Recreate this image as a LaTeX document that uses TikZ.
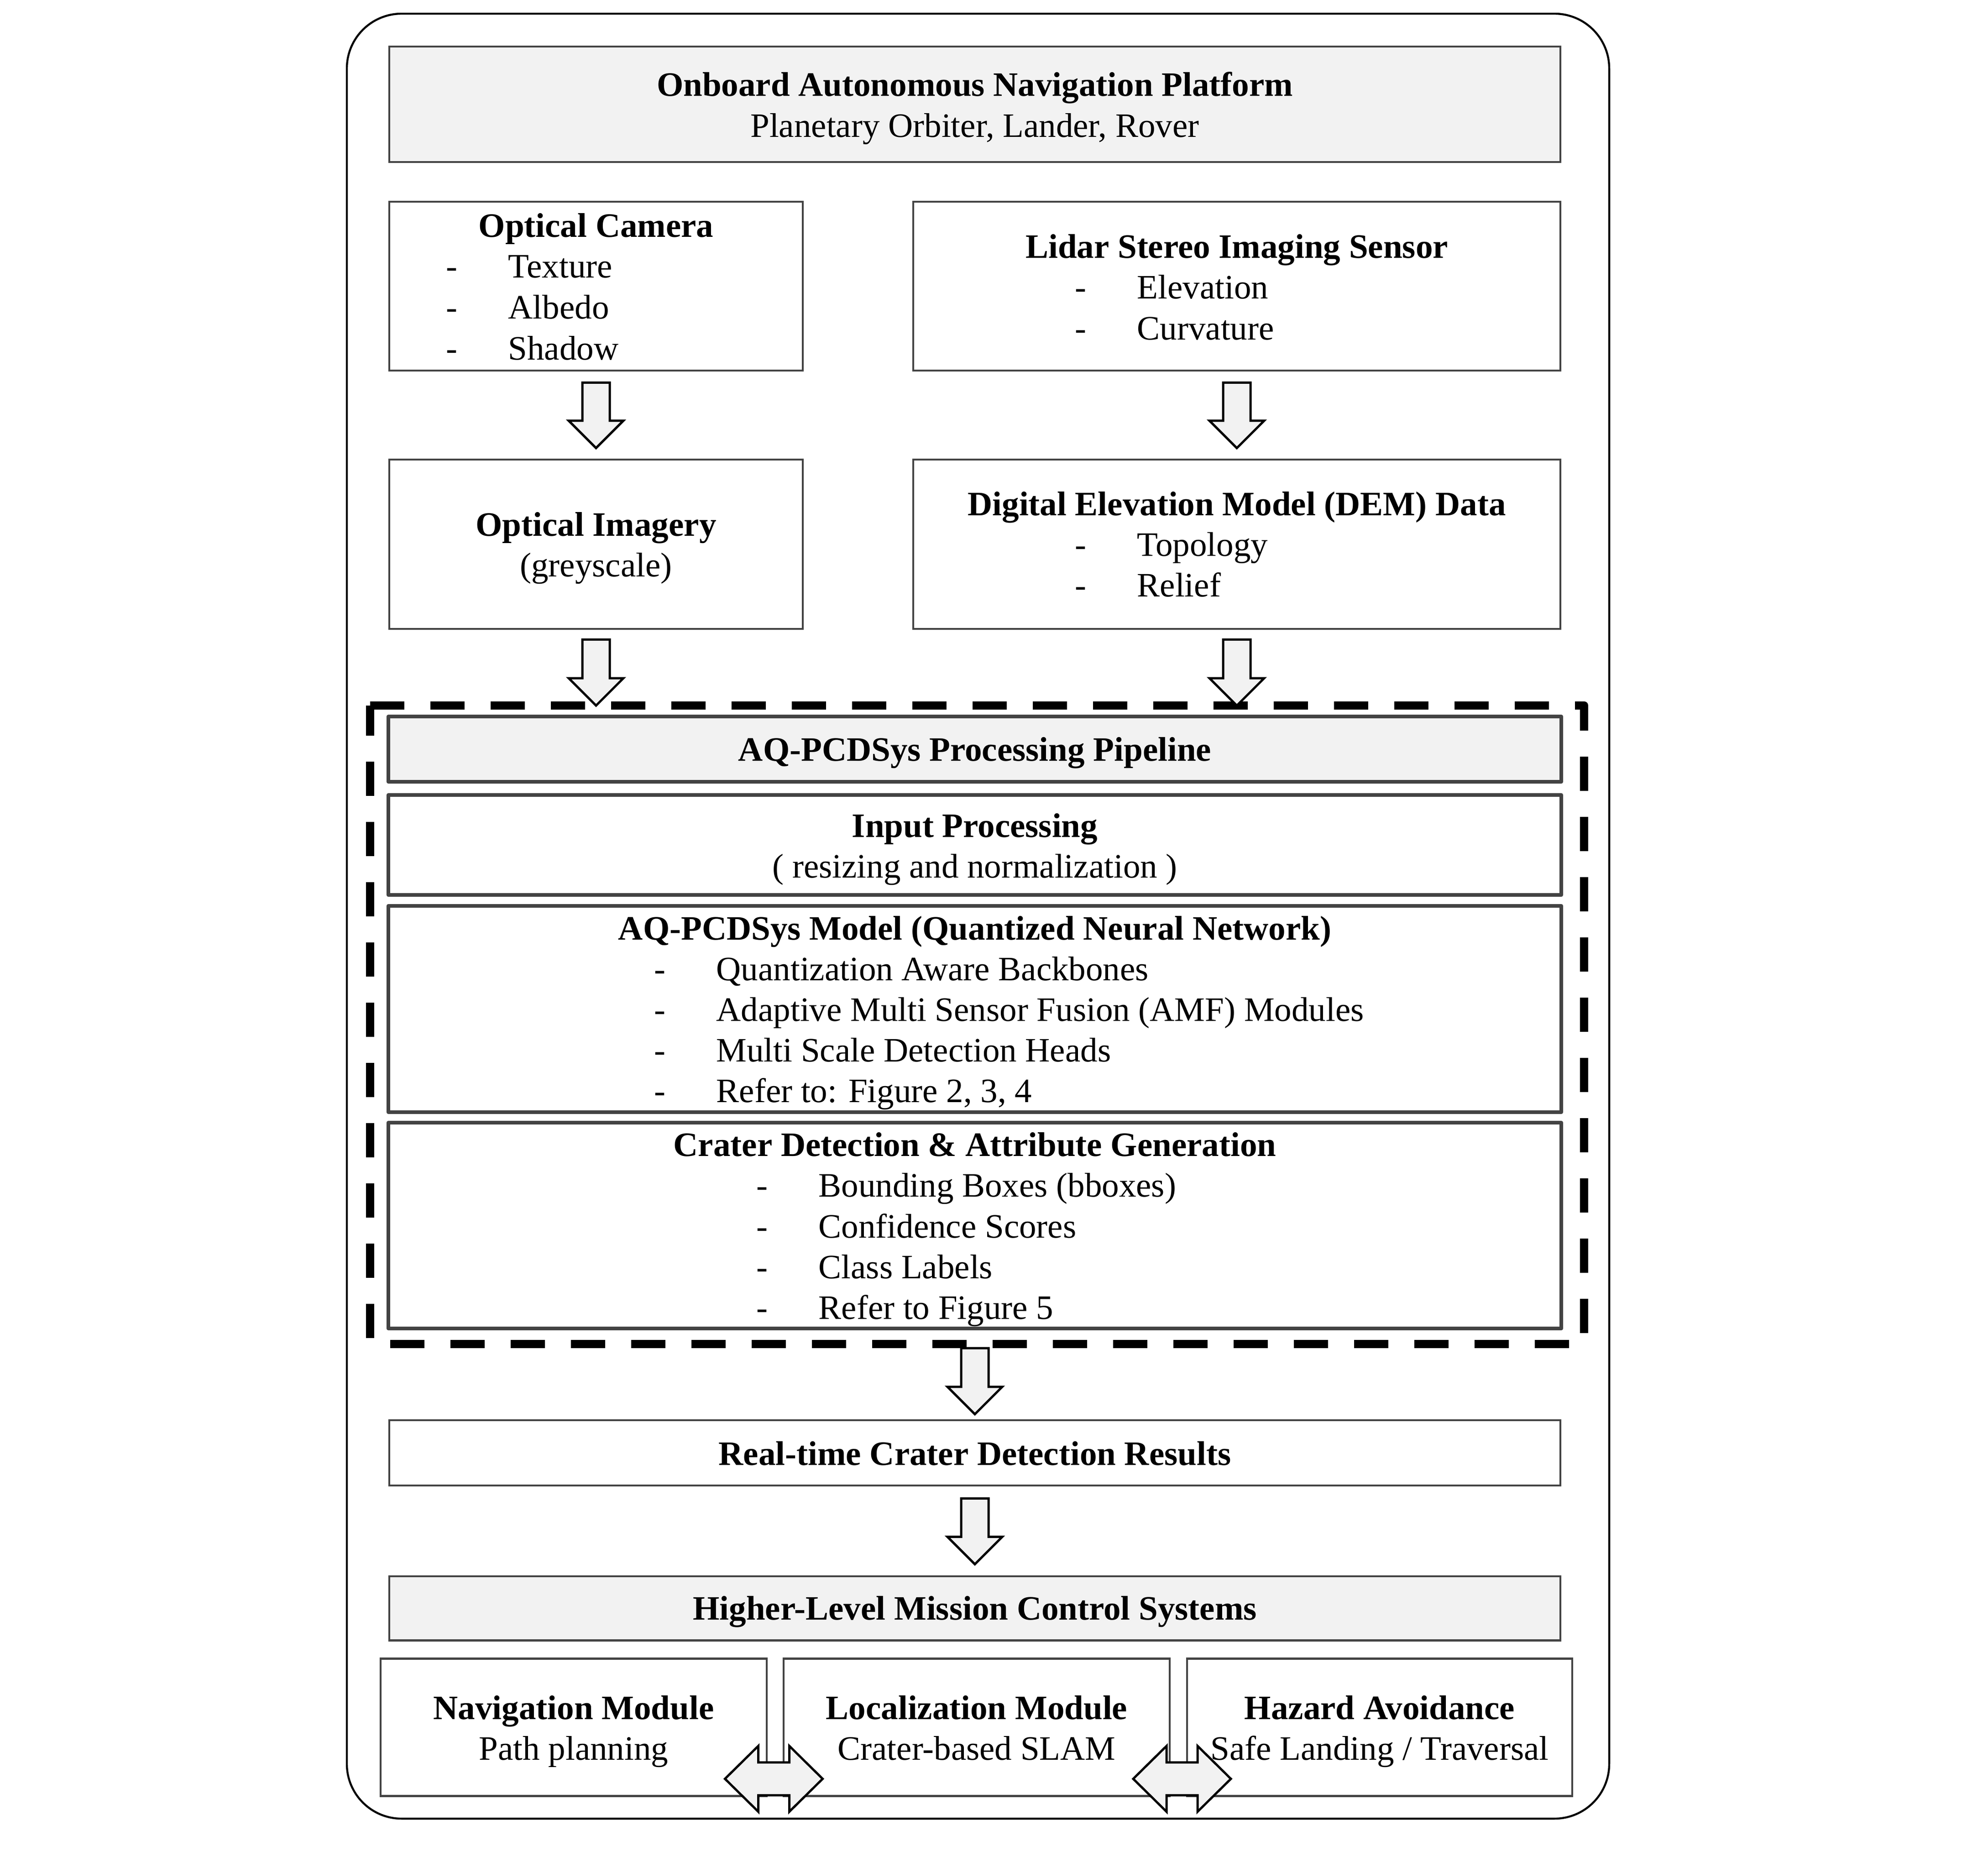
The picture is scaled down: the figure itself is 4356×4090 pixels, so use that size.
\documentclass[tikz,border=0pt]{standalone}
\usepackage{fontspec}
\setmainfont{Liberation Serif}
\usetikzlibrary{calc}
\definecolor{boxgray}{HTML}{F2F2F2}
\definecolor{edgegray}{HTML}{434343}
\newcommand{\fs}{\fontsize{18.75pt}{22.5pt}\selectfont}
\newcommand{\bul}{\makebox[34pt][l]{-}}
% fat down arrow: #1 = top centre, #2 = tip (only its y is used)
\newcommand{\fatdown}[2]{%
  \draw[fatarr] let \p1=(#1), \p2=(#2) in
    (\x1-7.5pt,\y1) -- (\x1-7.5pt,\y2+15pt) -- (\x1-15pt,\y2+15pt) -- (\x1,\y2)
    -- (\x1+15pt,\y2+15pt) -- (\x1+7.5pt,\y2+15pt) -- (\x1+7.5pt,\y1) -- cycle;}
% fat double arrow centred on #1
\newcommand{\fatboth}[1]{%
  \draw[fatarr] let \p1=(#1) in
    (\x1-26.75pt,\y1) -- (\x1-8.5pt,\y1+18pt) -- (\x1-8.5pt,\y1+9pt) -- (\x1+8.5pt,\y1+9pt)
    -- (\x1+8.5pt,\y1+18pt) -- (\x1+26.75pt,\y1) -- (\x1+8.5pt,\y1-18pt) -- (\x1+8.5pt,\y1-9pt)
    -- (\x1-8.5pt,\y1-9pt) -- (\x1-8.5pt,\y1-18pt) -- cycle;}
\begin{document}
\begin{tikzpicture}[x=0.25pt,y=-0.25pt,
  sz/.style 2 args={minimum width=#1*0.25pt, minimum height=#2*0.25pt},
  box/.style={rectangle, draw=edgegray, line width=1.125pt, fill=white, inner sep=0pt},
  graybox/.style={box, fill=boxgray},
  pbox/.style={box, line width=2.125pt, line join=round},
  pgray/.style={pbox, fill=boxgray},
  region/.style={rectangle, inner sep=0pt, outer sep=0pt},
  dashline/.style={draw=black, line width=4.6pt, dash pattern=on 18.75pt off 14.25pt, line join=round},
  outerframe/.style={rectangle, draw=black, line width=1.1pt, rounded corners=30pt, inner sep=0pt},
  fatarr/.style={draw=black, line width=1.25pt, fill=boxgray, line join=miter},
  txt/.style={inner sep=0pt, anchor=base, font=\fs},
  ttl/.style={txt, font=\fs\bfseries},
  itm/.style={txt, anchor=base west}]
\useasboundingbox (0,0) rectangle (4356,4090);

% frame
\node[outerframe, sz={2766}{3955}] (frame) at (2143,2007.5) {};

% boxes
\node[graybox, sz={2566}{253}] (top) at (2136,228.5) {};
\node[box, sz={906}{370}] (optcam) at (1306,627) {};
\node[box, sz={1418}{370}] (lidar) at (2710,627) {};
\node[box, sz={906}{371}] (optimg) at (1306,1192.5) {};
\node[box, sz={1418}{371}] (dem) at (2710,1192.5) {};
\node[region, sz={2660}{1399}] (pipe) at (2141,2245.5) {};
\draw[dashline] (pipe.north west) -- (pipe.north east) -- (pipe.south east) -- (pipe.south west) -- cycle;
\node[pgray, sz={2570}{143}] (phead) at (2136,1641.5) {};
\node[pbox, sz={2570}{219}] (inproc) at (2136,1851.5) {};
\node[pbox, sz={2570}{452}] (model) at (2136,2211) {};
\node[pbox, sz={2570}{451}] (crater) at (2136,2685.5) {};
\node[box, sz={2566}{143}] (rt) at (2136,3183.5) {};
\node[graybox, sz={2566}{140.5}] (hl) at (2136,3524) {};
\node[box, sz={846}{301}] (nav) at (1257,3785) {};
\node[box, sz={846}{301}] (loc) at (2140,3785) {};
\node[box, sz={844}{301}] (haz) at (3023,3785) {};

% texts
\node[ttl] (t1) at (2136,210) {Onboard Autonomous Navigation Platform};
\node[txt] (t2) at (2136,300) {Planetary Orbiter, Lander, Rover};

\node[ttl] (t3) at (1306,519) {Optical Camera};
\node[itm] (t4) at (977,608) {\bul Texture};
\node[itm] (t5) at (977,698) {\bul Albedo};
\node[itm] (t6) at (977,788) {\bul Shadow};

\node[ttl] (t7) at (2710,565) {Lidar Stereo Imaging Sensor};
\node[itm] (t8) at (2355,654) {\bul Elevation};
\node[itm] (t9) at (2355,744) {\bul Curvature};

\node[ttl] (t10) at (1306,1174) {Optical Imagery};
\node[txt] (t11) at (1306,1263) {(greyscale)};

\node[ttl] (t12) at (2710,1129) {Digital Elevation Model (DEM) Data};
\node[itm] (t13) at (2355,1218) {\bul Topology};
\node[itm] (t14) at (2355,1307) {\bul Relief};

\node[ttl] (t15) at (2136,1667) {AQ-PCDSys Processing Pipeline};
\node[ttl] (t16) at (2136,1834) {Input Processing};
\node[txt] (t17) at (2136,1923) {( resizing and normalization )};

\node[ttl] (t18) at (2136,2059) {AQ-PCDSys Model (Quantized Neural Network)};
\node[itm] (t19) at (1433,2148) {\bul Quantization Aware Backbones};
\node[itm] (t20) at (1433,2237) {\bul Adaptive Multi Sensor Fusion (AMF) Modules};
\node[itm] (t21) at (1433,2326) {\bul Multi Scale Detection Heads};
\node[itm] (t22) at (1433,2415) {\bul Refer to: Figure 2, 3, 4};

\node[ttl] (t23) at (2136,2533) {Crater Detection \& Attribute Generation};
\node[itm] (t24) at (1657,2622) {\bul Bounding Boxes (bboxes)};
\node[itm] (t25) at (1657,2712) {\bul Confidence Scores};
\node[itm] (t26) at (1657,2801) {\bul Class Labels};
\node[itm] (t27) at (1657,2890) {\bul Refer to Figure 5};

\node[ttl] (t28) at (2136,3210) {Real-time Crater Detection Results};
\node[ttl] (t29) at (2136,3549) {Higher-Level Mission Control Systems};

\node[ttl] (t30) at (1257,3767) {Navigation Module};
\node[txt] (t31) at (1257,3856) {Path planning};
\node[ttl] (t32) at (2140,3767) {Localization Module};
\node[txt] (t33) at (2140,3856) {Crater-based SLAM};
\node[ttl] (t34) at (3023,3767) {Hazard Avoidance};
\node[txt] (t35) at (3023,3856) {Safe Landing / Traversal};

% connectors
\fatdown{$(optcam.south)+(0,24)$}{$(optimg.north)+(0,-23)$}
\fatdown{$(lidar.south)+(0,24)$}{$(dem.north)+(0,-23)$}
\fatdown{$(optimg.south)+(0,21)$}{pipe.north}
\fatdown{$(dem.south)+(0,21)$}{pipe.north}
\fatdown{$(crater.south |- pipe.south)+(0,9)$}{$(rt.north)+(0,-11)$}
\fatdown{$(rt.south)+(0,26)$}{$(hl.north)+(0,-24)$}
\fatboth{$(nav.south east)!0.5!(loc.south west)+(-3,-40)$}
\fatboth{$(loc.south east)!0.5!(haz.south west)+(8,-40)$}
\end{tikzpicture}
\end{document}
